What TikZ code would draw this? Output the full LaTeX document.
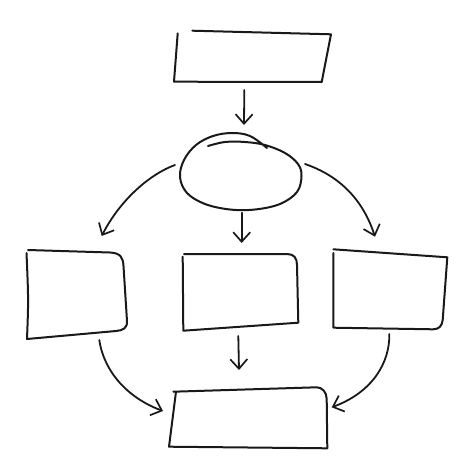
\documentclass[tikz,border=0pt]{standalone}
\usetikzlibrary{arrows.meta}
\begin{document}
\begin{tikzpicture}[x=1pt,y=-1pt,
  ink/.style={line width=2pt,line cap=round,line join=round,draw=black!90},
  arr/.style={ink,line width=1.8pt,-{Straight Barb[length=9.5pt,width=17pt,line width=1.7pt]}}]
\useasboundingbox (0,0) rectangle (474,474);
\fill[white] (0,0) rectangle (474,474);
% top parallelogram
\draw[ink] (192.3,30.7) -- (331,34.3) -- (321.7,82) -- (174,81.7) -- (177.7,33.3);
% ellipse (hand drawn, overlapping stroke)
\draw[ink] plot[smooth,tension=0.6] coordinates {(208,146) (225,142) (245,142) (265,145) (285,153) (298,164) (301.5,176) (297,192) (280,204) (255,209.5) (230,209.5) (205,204) (187,193) (180,177) (184,160) (196,145) (213,136) (232,133) (250,136) (267,148)};
% left box
\draw[ink] (28,250) -- (110,252.5) .. controls (121,253) and (123,258) .. (123.5,266) -- (127,321) .. controls (127.5,328) and (123,330.5) .. (116,331) -- (27,339) .. controls (28.5,300) .. (26.5,253);
% middle box
\draw[ink] (184,254) -- (287,254) .. controls (294,254) and (297,258) .. (297,265) -- (298.3,322.7) -- (183.3,330.7) -- (182.7,256.7);
% right box
\draw[ink] (333.3,249.3) -- (447.3,257.3) -- (442.7,320) .. controls (442,326) and (439,329.3) .. (433,329.3) -- (333.3,327.7) -- (333.3,253);
% bottom box
\draw[ink] (173.3,391.7) -- (316.7,387.3) .. controls (322,387.3) and (326.7,392) .. (326.7,399) -- (327.3,448.3) -- (169,446.7) -- (176,391.7);
% connector endpoints
\coordinate (t1) at (244.3,90);   \coordinate (t2) at (244,125);
\coordinate (l1) at (175,165);    \coordinate (l2) at (101.7,236);
\coordinate (c1) at (241.7,212.7);\coordinate (c2) at (241.7,243);
\coordinate (r1) at (305,164);    \coordinate (r2) at (375,236.7);
\coordinate (lb1) at (99.3,340);  \coordinate (lb2) at (163,411);
\coordinate (m1) at (238.3,336);  \coordinate (m2) at (239,370);
\coordinate (rb1) at (389.3,334); \coordinate (rb2) at (331.7,407.3);
% connectors
\draw[arr] (t1) -- (t2);
\draw[arr] (l1) .. controls (150,174) and (120,200) .. (l2);
\draw[arr] (c1) -- (c2);
\draw[arr] (r1) .. controls (340,176) and (363,200) .. (r2);
\draw[arr] (lb1) .. controls (104,372) and (128,398) .. (lb2);
\draw[arr] (m1) -- (m2);
\draw[arr] (rb1) .. controls (390,362) and (373,392) .. (rb2);
\end{tikzpicture}
\end{document}
